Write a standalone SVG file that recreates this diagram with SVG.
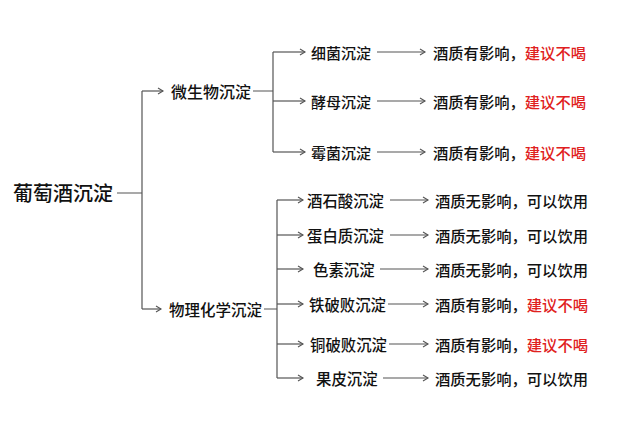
<svg xmlns="http://www.w3.org/2000/svg" width="631" height="422" viewBox="0 0 631 422">
<defs>
<marker id="arr" markerWidth="8" markerHeight="8" refX="6" refY="4" orient="auto" markerUnits="userSpaceOnUse">
<path d="M1,1 L6,4 L1,7" fill="none" stroke="#555" stroke-width="1.1"/>
</marker>
<style>
text{font-family:"Noto Sans CJK SC","Noto Sans",sans-serif;fill:#111;font-weight:500;dominant-baseline:central}
.t15{font-size:15px}
.red{fill:#e02020}
.ln{stroke:#555;stroke-width:1.2;fill:none}
.ar{stroke:#555;stroke-width:1.2;fill:none;marker-end:url(#arr)}
</style>
</defs>
<rect width="631" height="422" fill="#fff"/>
<g id="connectors">
<path class="ln" d="M117,193 H142 M142,91 V309"/>
<path class="ar" d="M142,91 H163"/>
<path class="ar" d="M142,309 H161"/>
<path class="ln" d="M253,91 H273 M273,52 V152"/>
<path class="ar" d="M273,52 H305"/>
<path class="ar" d="M273,101 H305"/>
<path class="ar" d="M273,152 H305"/>
<path class="ar" d="M377,52 H425"/>
<path class="ar" d="M377,101 H425"/>
<path class="ar" d="M377,152 H425"/>
<path class="ln" d="M264,309 H277 M277,200 V378"/>
<path class="ar" d="M277,200 H303"/>
<path class="ar" d="M277,235 H303"/>
<path class="ar" d="M277,269 H303"/>
<path class="ar" d="M277,304 H303"/>
<path class="ar" d="M277,344 H303"/>
<path class="ar" d="M277,378 H303"/>
<path class="ar" d="M390,200 H428"/>
<path class="ar" d="M390,235 H428"/>
<path class="ar" d="M380,269 H428"/>
<path class="ar" d="M388,304 H428"/>
<path class="ar" d="M389,344 H428"/>
<path class="ar" d="M383,378 H428"/>
</g>
<g id="root"><text x="13" y="192" font-size="20">葡萄酒沉淀</text></g>
<g id="micro"><text x="171" y="91" font-size="16">微生物沉淀</text></g>
<g id="phys"><text x="169" y="309" font-size="15.5">物理化学沉淀</text></g>
<g id="bacteria"><text class="t15" x="311" y="52">细菌沉淀</text></g>
<g id="yeast"><text class="t15" x="311" y="101">酵母沉淀</text></g>
<g id="mold"><text class="t15" x="311" y="152">霉菌沉淀</text></g>
<g id="tartaric"><text x="307" y="200" font-size="15.4">酒石酸沉淀</text></g>
<g id="protein"><text x="307" y="235" font-size="15.4">蛋白质沉淀</text></g>
<g id="pigment"><text x="313" y="269" font-size="15.4">色素沉淀</text></g>
<g id="iron"><text x="309" y="304" font-size="15.4">铁破败沉淀</text></g>
<g id="copper"><text x="310" y="344" font-size="15.4">铜破败沉淀</text></g>
<g id="peel"><text x="316" y="378" font-size="15.4">果皮沉淀</text></g>
<g id="r1"><text x="433" y="52" font-size="15.3">酒质有影响，<tspan class="red">建议不喝</tspan></text></g>
<g id="r2"><text x="433" y="101" font-size="15.3">酒质有影响，<tspan class="red">建议不喝</tspan></text></g>
<g id="r3"><text x="433" y="152" font-size="15.3">酒质有影响，<tspan class="red">建议不喝</tspan></text></g>
<g id="r4"><text x="435" y="200" font-size="15.3">酒质无影响，可以饮用</text></g>
<g id="r5"><text x="435" y="235" font-size="15.3">酒质无影响，可以饮用</text></g>
<g id="r6"><text x="435" y="269" font-size="15.3">酒质无影响，可以饮用</text></g>
<g id="r7"><text x="435" y="304" font-size="15.3">酒质有影响，<tspan class="red">建议不喝</tspan></text></g>
<g id="r8"><text x="435" y="344" font-size="15.3">酒质有影响，<tspan class="red">建议不喝</tspan></text></g>
<g id="r9"><text x="435" y="378" font-size="15.3">酒质无影响，可以饮用</text></g>
</svg>
